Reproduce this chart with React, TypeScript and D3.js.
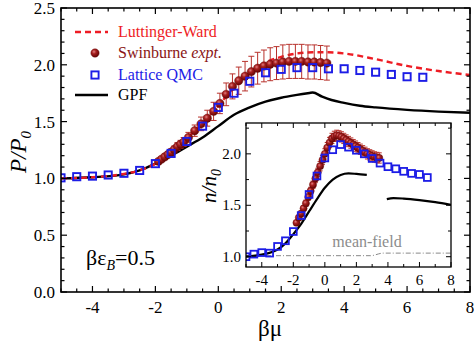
import React from "react";
import * as d3 from "d3";

// ---------- main panel data ----------
const lwX = [-5, -4, -3, -2.5, -2, -1.5, -1, -0.5, 0, 0.5, 1, 1.5, 2, 2.5, 3, 3.5, 4, 5, 6, 7, 8];
const lwY = [1.0, 1.01, 1.04, 1.07, 1.13, 1.23, 1.35, 1.49, 1.64, 1.8, 1.93, 2.02, 2.07, 2.1, 2.11, 2.11, 2.1, 2.05, 1.99, 1.945, 1.91];

const gpfX = [-5, -4, -3, -2.5, -2, -1.5, -1, -0.5, 0, 0.5, 1, 1.5, 2, 2.5, 2.9, 3.0, 3.3, 3.6, 4, 4.5, 5, 6, 7, 8];
const gpfY = [1.0, 1.01, 1.035, 1.07, 1.13, 1.2, 1.28, 1.36, 1.46, 1.56, 1.625, 1.675, 1.71, 1.735, 1.752, 1.756, 1.72, 1.69, 1.665, 1.64, 1.625, 1.603, 1.588, 1.578];

const qmcX = [-5, -4.5, -4, -3.5, -3, -2.5, -2, -1.5, -1, -0.5, 0, 0.5, 1, 1.5, 2, 2.5, 3, 3.5, 4, 4.5, 5, 5.5, 6, 6.5];
const qmcY = [1.005, 1.015, 1.02, 1.03, 1.045, 1.07, 1.13, 1.22, 1.325, 1.46, 1.625, 1.75, 1.855, 1.93, 1.96, 1.975, 1.975, 1.965, 1.965, 1.95, 1.935, 1.915, 1.895, 1.89];

const expX = [-1.9, -1.8, -1.7, -1.6, -1.5, -1.4, -1.3, -1.2, -1.1, -0.95, -0.75, -0.55, -0.35, -0.15, 0.05, 0.25, 0.45, 0.65, 0.85, 1.05, 1.25, 1.45, 1.65, 1.85, 2.05, 2.25, 2.45, 2.65, 2.85, 3.05, 3.25, 3.45];
const expY = [1.15, 1.17, 1.19, 1.21, 1.23, 1.255, 1.28, 1.3, 1.32, 1.36, 1.42, 1.48, 1.53, 1.59, 1.66, 1.74, 1.81, 1.86, 1.9, 1.94, 1.97, 1.99, 2.005, 2.015, 2.025, 2.03, 2.03, 2.03, 2.025, 2.025, 2.02, 2.015];
const expErr = [0.02, 0.02, 0.025, 0.025, 0.03, 0.03, 0.035, 0.035, 0.04, 0.045, 0.05, 0.06, 0.07, 0.08, 0.09, 0.1, 0.11, 0.12, 0.13, 0.135, 0.14, 0.14, 0.145, 0.145, 0.15, 0.15, 0.15, 0.15, 0.15, 0.15, 0.15, 0.15];

// ---------- inset data ----------
const inQmcX = [-5, -4.5, -4, -3.5, -3, -2.5, -2, -1.5, -1, -0.5, 0, 0.5, 1, 1.5, 2, 2.5, 3, 3.5, 4, 4.5, 5, 5.5, 6, 6.5];
const inQmcY = [1.0, 1.025, 1.04, 1.035, 1.1, 1.155, 1.245, 1.4, 1.605, 1.785, 1.96, 2.04, 2.09, 2.065, 2.035, 2.0, 1.955, 1.91, 1.875, 1.855, 1.83, 1.81, 1.8, 1.77];

const inExpX = [-1.8, -1.65, -1.5, -1.35, -1.2, -1.05, -0.9, -0.75, -0.6, -0.45, -0.3, -0.15, 0.0, 0.15, 0.3, 0.45, 0.6, 0.75, 0.9, 1.05, 1.2, 1.35, 1.5, 1.65, 1.8, 1.95, 2.1, 2.25, 2.4, 2.55, 2.7, 2.85, 3.0, 3.15, 3.3, 3.45];
const inExpY = [1.33, 1.38, 1.42, 1.47, 1.52, 1.58, 1.64, 1.7, 1.76, 1.82, 1.88, 1.94, 2.0, 2.06, 2.11, 2.15, 2.17, 2.18, 2.175, 2.165, 2.15, 2.135, 2.12, 2.105, 2.09, 2.075, 2.06, 2.045, 2.03, 2.015, 2.0, 1.99, 1.98, 1.97, 1.965, 1.96];
const inExpErr = [0.02, 0.02, 0.025, 0.025, 0.03, 0.03, 0.035, 0.035, 0.04, 0.04, 0.045, 0.045, 0.05, 0.05, 0.05, 0.05, 0.05, 0.05, 0.05, 0.05, 0.05, 0.05, 0.05, 0.05, 0.05, 0.05, 0.05, 0.05, 0.05, 0.05, 0.05, 0.05, 0.05, 0.05, 0.05, 0.05];

const inGpf1X = [-5, -4, -3, -2.5, -2, -1.5, -1, -0.5, 0, 0.5, 1, 1.5, 2, 2.66];
const inGpf1Y = [1.0, 1.02, 1.07, 1.13, 1.22, 1.32, 1.44, 1.56, 1.67, 1.75, 1.795, 1.81, 1.805, 1.795];
const inGpf2X = [3.93, 4.35, 5, 6, 7, 8];
const inGpf2Y = [1.56, 1.57, 1.565, 1.55, 1.53, 1.505];

const mfX = [-5, 2.9, 3.7, 8];
const mfY = [1.01, 1.01, 1.035, 1.035];

// ticks
const mainXTicks = [-4, -2, 0, 2, 4, 6, 8];
const mainYTicks = [0, 0.5, 1.0, 1.5, 2.0, 2.5];
const inXTicks = [-4, -2, 0, 2, 4, 6, 8];
const inYTicks = [1.0, 1.5, 2.0];

const FONT = "'Liberation Serif'";
const RED = "#ee1c24";
const BLUE = "#1c1ce6";
const DARKRED = "#8a1414";
const ERR = "#b8322c";

const range = (a: number, b: number, s: number) => {
  const out: number[] = [];
  for (let v = a; v <= b + 1e-9; v += s) out.push(Math.round(v * 1000) / 1000);
  return out;
};

export default function App() {
  const W = 474, H = 343;
  const x = d3.scaleLinear().domain([-5, 8]).range([61, 470]);
  const y = d3.scaleLinear().domain([0, 2.5]).range([292, 8]);
  const ix = d3.scaleLinear().domain([-5, 8]).range([246, 451]);
  const iy = d3.scaleLinear().domain([0.9, 2.3]).range([267, 123]);

  const line = (sx: any, sy: any, xs: number[], ys: number[]) =>
    d3.line<number>().x((_, i) => sx(xs[i])).y((_, i) => sy(ys[i])).curve(d3.curveMonotoneX)(xs) || "";

  const [x0, x1] = x.range();
  const [y0, y1] = y.range();
  const [ix0, ix1] = ix.range();
  const [iy0, iy1] = iy.range();

  const mainMinorX = range(-5, 8, 0.5);
  const mainMinorY = range(0, 2.5, 0.1);
  const inMinorX = range(-5, 8, 1);
  const inMinorY = range(1.0, 2.25, 0.25);

  const ball = (cx: number, cy: number, r: number, key: string) => (
    <circle key={key} cx={cx} cy={cy} r={r} fill="url(#ballGrad)" stroke="#6a0a0a" strokeWidth={0.4} />
  );

  const tstyle = { fontFamily: FONT };

  return (
    <svg width={W} height={H} style={{ position: "absolute", left: 0, top: 0, background: "#fff" }}>
      <defs>
        <radialGradient id="ballGrad" cx="0.38" cy="0.35" r="0.7">
          <stop offset="0" stopColor="#e08080" />
          <stop offset="0.35" stopColor="#a82020" />
          <stop offset="1" stopColor="#5a0000" />
        </radialGradient>
        <clipPath id="mainClip">
          <rect x={x0} y={y1} width={x1 - x0} height={y0 - y1} />
        </clipPath>
        <clipPath id="inClip">
          <rect x={ix0} y={iy1} width={ix1 - ix0} height={iy0 - iy1} />
        </clipPath>
      </defs>

      {/* ---------- main plot ---------- */}
      <g clipPath="url(#mainClip)">
        <path d={line(x, y, gpfX, gpfY)} fill="none" stroke="#000" strokeWidth={2.4} />
        <path d={line(x, y, lwX, lwY)} fill="none" stroke={RED} strokeWidth={2.4} strokeDasharray="6,4" />
        {expX.map((v, i) => {
          const cx = x(v);
          const t = y(expY[i] + expErr[i]);
          const b = y(expY[i] - expErr[i]);
          return (
            <g key={"e" + i} stroke={ERR} strokeWidth={1}>
              <line x1={cx} x2={cx} y1={t} y2={b} />
              <line x1={cx - 3} x2={cx + 3} y1={t} y2={t} />
              <line x1={cx - 3} x2={cx + 3} y1={b} y2={b} />
            </g>
          );
        })}
        {expX.map((v, i) => ball(x(v), y(expY[i]), 4.2, "b" + i))}
        {qmcX.map((v, i) => (
          <rect key={"q" + i} x={x(v) - 3.6} y={y(qmcY[i]) - 3.6} width={7.2} height={7.2} fill="none" stroke={BLUE} strokeWidth={1.9} />
        ))}
      </g>

      {/* main frame */}
      <rect x={x0} y={y1} width={x1 - x0} height={y0 - y1} fill="none" stroke="#000" strokeWidth={1.6} />
      <g stroke="#000" strokeWidth={1.2}>
        {mainMinorX.map((v) => {
          const major = mainXTicks.includes(v);
          const L = major ? 6 : 3.5;
          return (
            <g key={"mx" + v}>
              <line x1={x(v)} x2={x(v)} y1={y0} y2={y0 - L} />
              <line x1={x(v)} x2={x(v)} y1={y1} y2={y1 + L} />
            </g>
          );
        })}
        {mainMinorY.map((v) => {
          const major = mainYTicks.some((t) => Math.abs(t - v) < 1e-6);
          const L = major ? 6 : 3.5;
          return (
            <g key={"my" + v}>
              <line x1={x0} x2={x0 + L} y1={y(v)} y2={y(v)} />
              <line x1={x1} x2={x1 - L} y1={y(v)} y2={y(v)} />
            </g>
          );
        })}
      </g>
      {mainYTicks.map((v) => (
        <text key={"ly" + v} style={tstyle} x={x0 - 6} y={y(v) + 6} textAnchor="end" fontSize={17} fill="#000">
          {v.toFixed(1)}
        </text>
      ))}
      {mainXTicks.map((v) => (
        <text key={"lx" + v} style={tstyle} x={x(v)} y={313} textAnchor="middle" fontSize={17} fill="#000">
          {String(v)}
        </text>
      ))}
      <text style={tstyle} x={270} y={336} textAnchor="middle" fontSize={23} fill="#000">βμ</text>
      <text style={tstyle} transform={`translate(26,152) rotate(-90)`} textAnchor="middle" fontSize={23} fill="#000" fontStyle="italic">
        P/P<tspan fontSize={15} dy={5}>0</tspan>
      </text>
      <text style={tstyle} x={86} y={265} fontSize={22} fill="#000">
        βε<tspan fontSize={14} dy={5} fontStyle="italic">B</tspan><tspan dy={-5}>=0.5</tspan>
      </text>

      {/* legend */}
      <line x1={75} x2={108} y1={32} y2={32} stroke={RED} strokeWidth={2.4} strokeDasharray="6,4" />
      <text style={tstyle} x={118} y={37} fontSize={16} fill={RED}>Luttinger-Ward</text>
      {ball(95, 53, 4.2, "legball")}
      <text style={tstyle} x={118} y={58} fontSize={16} fill={DARKRED}>
        Swinburne <tspan fontStyle="italic">expt.</tspan>
      </text>
      <rect x={95 - 3.6} y={75 - 3.6} width={7.2} height={7.2} fill="none" stroke={BLUE} strokeWidth={1.9} />
      <text style={tstyle} x={118} y={80} fontSize={16} fill={BLUE}>Lattice QMC</text>
      <line x1={75} x2={108} y1={95} y2={95} stroke="#000" strokeWidth={2.4} />
      <text style={tstyle} x={118} y={100} fontSize={16} fill="#000">GPF</text>

      {/* ---------- inset ---------- */}
      <rect x={ix0} y={iy1} width={ix1 - ix0} height={iy0 - iy1} fill="#fff" />
      <g clipPath="url(#inClip)">
        <path d={line(ix, iy, mfX, mfY)} fill="none" stroke="#888" strokeWidth={1} strokeDasharray="5,2,1,2" />
        <path d={line(ix, iy, inGpf1X, inGpf1Y)} fill="none" stroke="#000" strokeWidth={2.2} />
        <path d={line(ix, iy, inGpf2X, inGpf2Y)} fill="none" stroke="#000" strokeWidth={2.2} />
        {inExpX.map((v, i) => {
          const cx = ix(v);
          const t = iy(inExpY[i] + inExpErr[i]);
          const b = iy(inExpY[i] - inExpErr[i]);
          return (
            <g key={"ie" + i} stroke={ERR} strokeWidth={1}>
              <line x1={cx} x2={cx} y1={t} y2={b} />
              <line x1={cx - 2.5} x2={cx + 2.5} y1={t} y2={t} />
              <line x1={cx - 2.5} x2={cx + 2.5} y1={b} y2={b} />
            </g>
          );
        })}
        {inExpX.map((v, i) => ball(ix(v), iy(inExpY[i]), 3.6, "ib" + i))}
        {inQmcX.map((v, i) => (
          <rect key={"iq" + i} x={ix(v) - 3.4} y={iy(inQmcY[i]) - 3.4} width={6.8} height={6.8} fill="none" stroke={BLUE} strokeWidth={1.8} />
        ))}
      </g>
      <text style={tstyle} x={367} y={247} textAnchor="middle" fontSize={16} fill="#8c8c8c">mean-field</text>
      <rect x={ix0} y={iy1} width={ix1 - ix0} height={iy0 - iy1} fill="none" stroke="#000" strokeWidth={1.3} />
      <g stroke="#000" strokeWidth={1}>
        {inMinorX.map((v) => {
          const major = inXTicks.includes(v);
          const L = major ? 5 : 3;
          return (
            <g key={"ix" + v}>
              <line x1={ix(v)} x2={ix(v)} y1={iy0} y2={iy0 - L} />
              <line x1={ix(v)} x2={ix(v)} y1={iy1} y2={iy1 + L} />
            </g>
          );
        })}
        {inMinorY.map((v) => {
          const major = inYTicks.some((t) => Math.abs(t - v) < 1e-6);
          const L = major ? 5 : 3;
          return (
            <g key={"iyt" + v}>
              <line x1={ix0} x2={ix0 + L} y1={iy(v)} y2={iy(v)} />
              <line x1={ix1} x2={ix1 - L} y1={iy(v)} y2={iy(v)} />
            </g>
          );
        })}
      </g>
      {inYTicks.map((v) => (
        <text key={"ily" + v} style={tstyle} x={ix0 - 5} y={iy(v) + 5} textAnchor="end" fontSize={15} fill="#000">
          {v.toFixed(1)}
        </text>
      ))}
      {inXTicks.map((v) => (
        <text key={"ilx" + v} style={tstyle} x={ix(v)} y={285} textAnchor="middle" fontSize={15} fill="#000">
          {String(v)}
        </text>
      ))}
      <text style={tstyle} transform={`translate(216,186) rotate(-90)`} textAnchor="middle" fontSize={21} fill="#000" fontStyle="italic">
        n/n<tspan fontSize={14} dy={5}>0</tspan>
      </text>
    </svg>
  );
}
